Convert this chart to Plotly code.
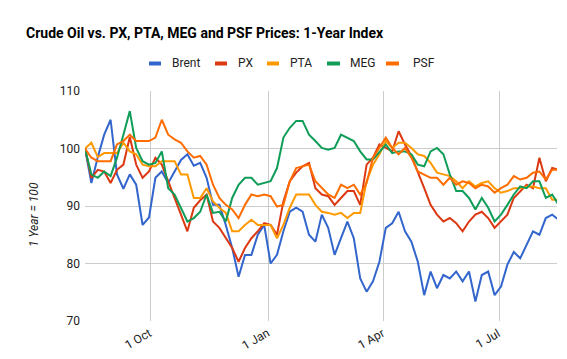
import pandas as pd
import plotly.graph_objects as go

# ---------------- data ----------------
dates = pd.date_range("2018-08-11", periods=75, freq="5D")

brent = [100, 94, 98.5, 102.4, 105, 95.5, 93, 95.5, 93.7, 86.7, 88, 94.9, 96, 94, 96, 98, 99, 97, 97.5,
         94.9, 90.2, 90.2, 86.7, 82.7, 77.7, 81.5, 81.5, 85, 86.7, 80, 81.5, 85.6, 89, 89.7, 89, 85, 83.8,
         88.5, 86.2, 81.5, 84.4, 87.3, 84.4, 77.4, 75.1, 76.9, 80.3, 86.2, 87, 89, 85.6, 83.8, 80.3, 74.5,
         78.6, 75.7, 78, 77.4, 78.6, 76.9, 78.6, 73.4, 78, 78.6, 74.5, 76, 79.8, 82, 80.9, 83.3, 85.6, 85,
         87.9, 88.5, 87.6]
px_ = [100, 94.9, 96.3, 96, 94, 96.3, 97.2, 102, 97.2, 94.9, 96, 98.4, 97.2, 94.3, 91.4, 88.5, 85.6, 89.7,
       91, 92, 87.3, 86.2, 84.4, 82.7, 80.3, 82.7, 84.4, 85.6, 87, 86.7, 85, 90.8, 94.3, 95.8, 96.9, 97.5,
       93.1, 92, 91.7, 90.2, 91.4, 92.6, 92.6, 90.2, 97.2, 98.4, 100.7, 100.1, 99.5, 103, 100.7, 98.7, 96,
       93.1, 90.2, 88.5, 87.3, 87.9, 87, 85.6, 87.3, 88.5, 89, 87.9, 86.2, 87.3, 88.5, 91.4, 92.6, 93.7,
       93.1, 98.4, 94.3, 96.6, 96.3]
pta = [100, 101, 98.5, 99.2, 99.2, 99.2, 101, 99.5, 99, 97.2, 96.9, 96.9, 97.8, 97.8, 97.8, 95.5, 95.5,
       91.4, 91.4, 93.1, 90.8, 89.7, 88.8, 85.6, 85.6, 86.7, 87.6, 86.7, 86.7, 86.7, 84.4, 86.7, 89.7, 92,
       92, 92, 90.2, 89, 88.8, 88.5, 88.8, 87.9, 88.8, 88.8, 94.3, 97.2, 99, 101.3, 100.1, 101, 101, 100.1,
       99, 98.7, 97.5, 95.8, 95.5, 95.2, 94.3, 93.1, 94.3, 93.4, 94, 94.3, 93.1, 92.3, 92.6, 93.1, 93.1,
       93.4, 93.4, 93.1, 93.1, 91.1, 91.1]
meg = [100, 95.5, 94.9, 96, 95.2, 98.4, 102.4, 106.5, 100.1, 97.8, 97.2, 97.5, 99.5, 93.1, 92, 89.7, 87.3,
       87.9, 89, 92, 88.8, 89, 87.3, 91.4, 93.7, 94.9, 94.9, 93.7, 94, 94.3, 96.6, 101.9, 103.6, 104.8,
       104.8, 102.4, 101.3, 100.1, 99.8, 100.1, 102.4, 101.9, 101.3, 99.5, 98.1, 98.1, 99.5, 100.7, 99.2,
       99.5, 99.5, 99, 97.2, 96.9, 99.5, 100.1, 99, 95.5, 92.6, 92.6, 91.4, 89.4, 91.4, 89.7, 87.3, 88.5,
       90.2, 92, 93.4, 93.1, 94.3, 94.3, 91.4, 92, 90.2]
psf = [100, 98.4, 97.8, 97.8, 97.8, 100.7, 101.3, 102.4, 101.3, 101.3, 101.3, 101.9, 105, 102.4, 101.6,
       101, 99.5, 98.4, 98.7, 97.2, 93.7, 91.4, 90.2, 89.4, 87.9, 90.2, 92, 91.7, 92, 91.7, 89.9, 90.2,
       94.3, 96.6, 96.9, 97.2, 94.3, 93.1, 92, 91.4, 93.7, 93.1, 93.7, 92, 94, 98.4, 100.1, 101.9, 100.1,
       99, 100.1, 98.4, 96, 95.5, 94.9, 94.9, 93.7, 94.9, 93.7, 94.3, 94, 93.1, 93.7, 93.4, 92.3, 93.1,
       93.7, 95.2, 94.6, 94.9, 95.8, 96, 94.6, 96.3, 96.3]

series_names = ["Brent", "PX", "PTA", "MEG", "PSF"]
series_values = [brent, px_, pta, meg, psf]
colors = ["#3366cc", "#dc3912", "#ff9900", "#0f9d58", "#ff6d01"]

x_tick_vals = ["2018-10-01", "2019-01-01", "2019-04-01", "2019-07-01"]
x_tick_text = ["1 Oct", "1 Jan", "1 Apr", "1 Jul"]
y_tick_vals = [70, 80, 90, 100, 110]

# ---------------- layout geometry ----------------
W, H = 567, 359
L, R, T, B = 77, 18, 83, 46
pw, ph = W - L - R, H - T - B


def pxx(p):
    return (p - L) / pw


def pxy(p):
    return (H - B - p) / ph


FONT = "Roboto, Arial, sans-serif"

fig = go.Figure()
for name, vals, col in zip(series_names, series_values, colors):
    fig.add_trace(go.Scatter(x=dates, y=vals, name=name, mode="lines",
                             line=dict(color=col, width=2), showlegend=False))

annotations = []
shapes = []

# custom legend
leg_sym = [(141, 153), (207, 219), (259, 271), (319, 332), (378, 391)]
leg_txt = [162, 228, 280, 340, 403]
leg_y = 55.5
for (a, b), tx, name, col in zip(leg_sym, leg_txt, series_names, colors):
    shapes.append(dict(type="line", xref="paper", yref="paper",
                       x0=pxx(a), x1=pxx(b), y0=pxy(leg_y), y1=pxy(leg_y),
                       line=dict(color=col, width=4)))
    annotations.append(dict(text=name, xref="paper", yref="paper", x=pxx(tx), y=pxy(leg_y),
                            xanchor="left", yanchor="middle", showarrow=False,
                            font=dict(family=FONT, size=12, color="#222222")))

# x tick labels, rotated
for v, t in zip(x_tick_vals, x_tick_text):
    annotations.append(dict(text=t, xref="x", yref="paper", x=v, y=pxy(331), xshift=-12,
                            xanchor="center", yanchor="middle", textangle=-30, showarrow=False,
                            font=dict(family=FONT, size=12, color="#222222")))

# y axis title
annotations.append(dict(text="1 Year = 100", xref="paper", yref="paper", x=pxx(26), y=pxy(207),
                        xanchor="center", yanchor="middle", textangle=-90, showarrow=False,
                        font=dict(family=FONT, size=12, color="#222222", style="italic")))

fig.update_layout(
    width=W, height=H,
    margin=dict(l=L, r=R, t=T, b=B),
    paper_bgcolor="white", plot_bgcolor="white",
    title=dict(text="<b>Crude Oil vs. PX, PTA, MEG and PSF Prices: 1-Year Index</b>",
               xref="container", yref="container", x=18 / W, y=1 - 25 / H,
               xanchor="left", yanchor="middle",
               font=dict(family=FONT, size=14, color="#000000")),
    font=dict(family=FONT, size=12, color="#222222"),
    annotations=annotations,
    shapes=shapes,
    hovermode=False,
)
fig.update_xaxes(range=["2018-08-11", "2019-08-14 18:00"], tickvals=x_tick_vals,
                 showticklabels=False, showgrid=True, gridcolor="#cccccc", gridwidth=1,
                 zeroline=False, showline=False, ticks="")
fig.update_yaxes(range=[70, 110], tickvals=y_tick_vals, showgrid=True, gridcolor="#cccccc",
                 gridwidth=1, zeroline=False, showline=False, ticks="",
                 tickfont=dict(family=FONT, size=12, color="#222222"), ticklabelstandoff=4)

fig.write_html("out.html")
